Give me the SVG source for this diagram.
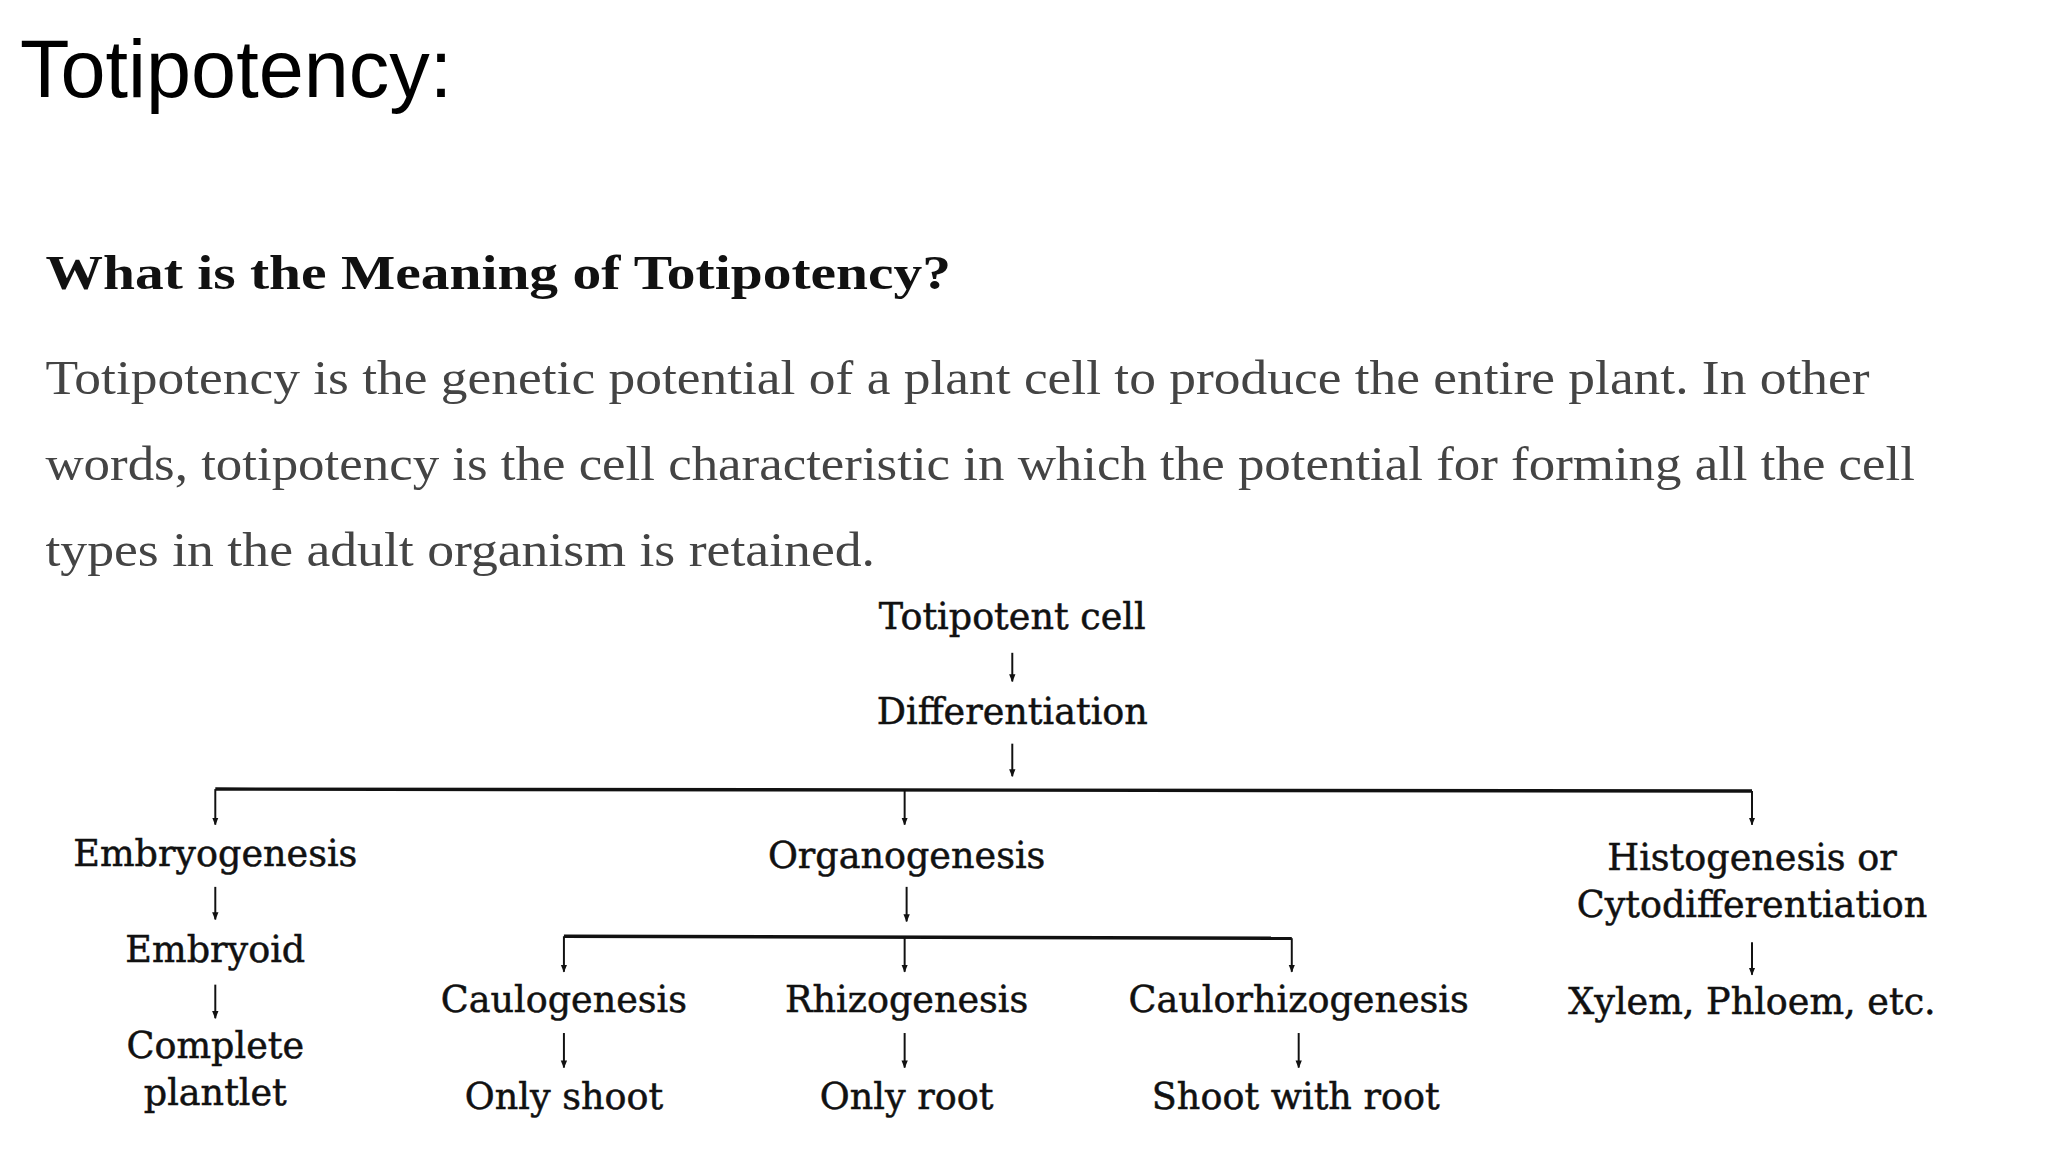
<svg xmlns="http://www.w3.org/2000/svg" width="2048" height="1152" viewBox="0 0 2048 1152">
<defs>
<marker id="ah" viewBox="0 0 10 10" refX="9" refY="5" markerWidth="8" markerHeight="8" orient="auto" markerUnits="userSpaceOnUse"><path d="M0,1 L10,5 L0,9 z" fill="#111"/></marker>
<style>
.n{font-family:"DejaVu Serif","Liberation Serif",serif;font-size:37px;fill:#111;stroke:#111;stroke-width:0.5;text-anchor:middle}
.c line{stroke:#111;stroke-width:2}
.c .a{marker-end:url(#ah)}
.p{font-family:"Liberation Serif",serif;font-size:50px;fill:#444}
</style>
</defs>
<rect width="2048" height="1152" fill="#fff"/>
<text x="20" y="97" font-family="Liberation Sans,Arial,sans-serif" font-size="81" fill="#000">Totipotency:</text>
<g transform="scale(0.9876)">
<text x="46" y="293" font-family="Liberation Serif,serif" font-size="49" font-weight="bold" fill="#111" textLength="917" lengthAdjust="spacingAndGlyphs">What is the Meaning of Totipotency?</text>
<text class="p" x="46" y="399" textLength="1847" lengthAdjust="spacingAndGlyphs">Totipotency is the genetic potential of a plant cell to produce the entire plant. In other</text>
<text class="p" x="46" y="486" textLength="1893" lengthAdjust="spacingAndGlyphs">words, totipotency is the cell characteristic in which the potential for forming all the cell</text>
<text class="p" x="46" y="573" textLength="840" lengthAdjust="spacingAndGlyphs">types in the adult organism is retained.</text>
<g class="c" id="connectors">
<line class="a" x1="1025" y1="661" x2="1025" y2="690"/>
<line class="a" x1="1025" y1="753" x2="1025" y2="786"/>
<line x1="218" y1="799" x2="1774" y2="801" style="stroke-width:3.5"/>
<line class="a" x1="218" y1="799" x2="218" y2="835"/>
<line class="a" x1="916" y1="800" x2="916" y2="835"/>
<line class="a" x1="1774" y1="801" x2="1774" y2="835"/>
<line class="a" x1="218" y1="898" x2="218" y2="931"/>
<line class="a" x1="218" y1="997" x2="218" y2="1031"/>
<line class="a" x1="918" y1="898" x2="918" y2="933"/>
<line x1="571" y1="948" x2="1308" y2="950" style="stroke-width:3.5"/>
<line class="a" x1="571" y1="948" x2="571" y2="984"/>
<line class="a" x1="916" y1="949" x2="916" y2="984"/>
<line class="a" x1="1308" y1="950" x2="1308" y2="984"/>
<line class="a" x1="571" y1="1046" x2="571" y2="1081"/>
<line class="a" x1="916" y1="1046" x2="916" y2="1081"/>
<line class="a" x1="1315" y1="1046" x2="1315" y2="1081"/>
<line class="a" x1="1774" y1="954" x2="1774" y2="987"/>
</g>
<g id="totipotent"><text class="n" x="1025" y="637">Totipotent cell</text></g>
<g id="differentiation"><text class="n" x="1025" y="733">Differentiation</text></g>
<g id="embryogenesis"><text class="n" x="218" y="877">Embryogenesis</text></g>
<g id="embryoid"><text class="n" x="218" y="974">Embryoid</text></g>
<g id="plantlet"><text class="n" x="218" y="1071">Complete</text><text class="n" x="218" y="1119">plantlet</text></g>
<g id="organogenesis"><text class="n" x="918" y="879">Organogenesis</text></g>
<g id="histogenesis"><text class="n" x="1774" y="881">Histogenesis or</text><text class="n" x="1774" y="929">Cytodifferentiation</text></g>
<g id="xylem"><text class="n" x="1774" y="1027">Xylem, Phloem, etc.</text></g>
<g id="caulogenesis"><text class="n" x="571" y="1025">Caulogenesis</text></g>
<g id="rhizogenesis"><text class="n" x="918" y="1025">Rhizogenesis</text></g>
<g id="caulorhizogenesis"><text class="n" x="1315" y="1025">Caulorhizogenesis</text></g>
<g id="onlyshoot"><text class="n" x="571" y="1123">Only shoot</text></g>
<g id="onlyroot"><text class="n" x="918" y="1123">Only root</text></g>
<g id="shootroot"><text class="n" x="1312" y="1123">Shoot with root</text></g>
</g>
</svg>
